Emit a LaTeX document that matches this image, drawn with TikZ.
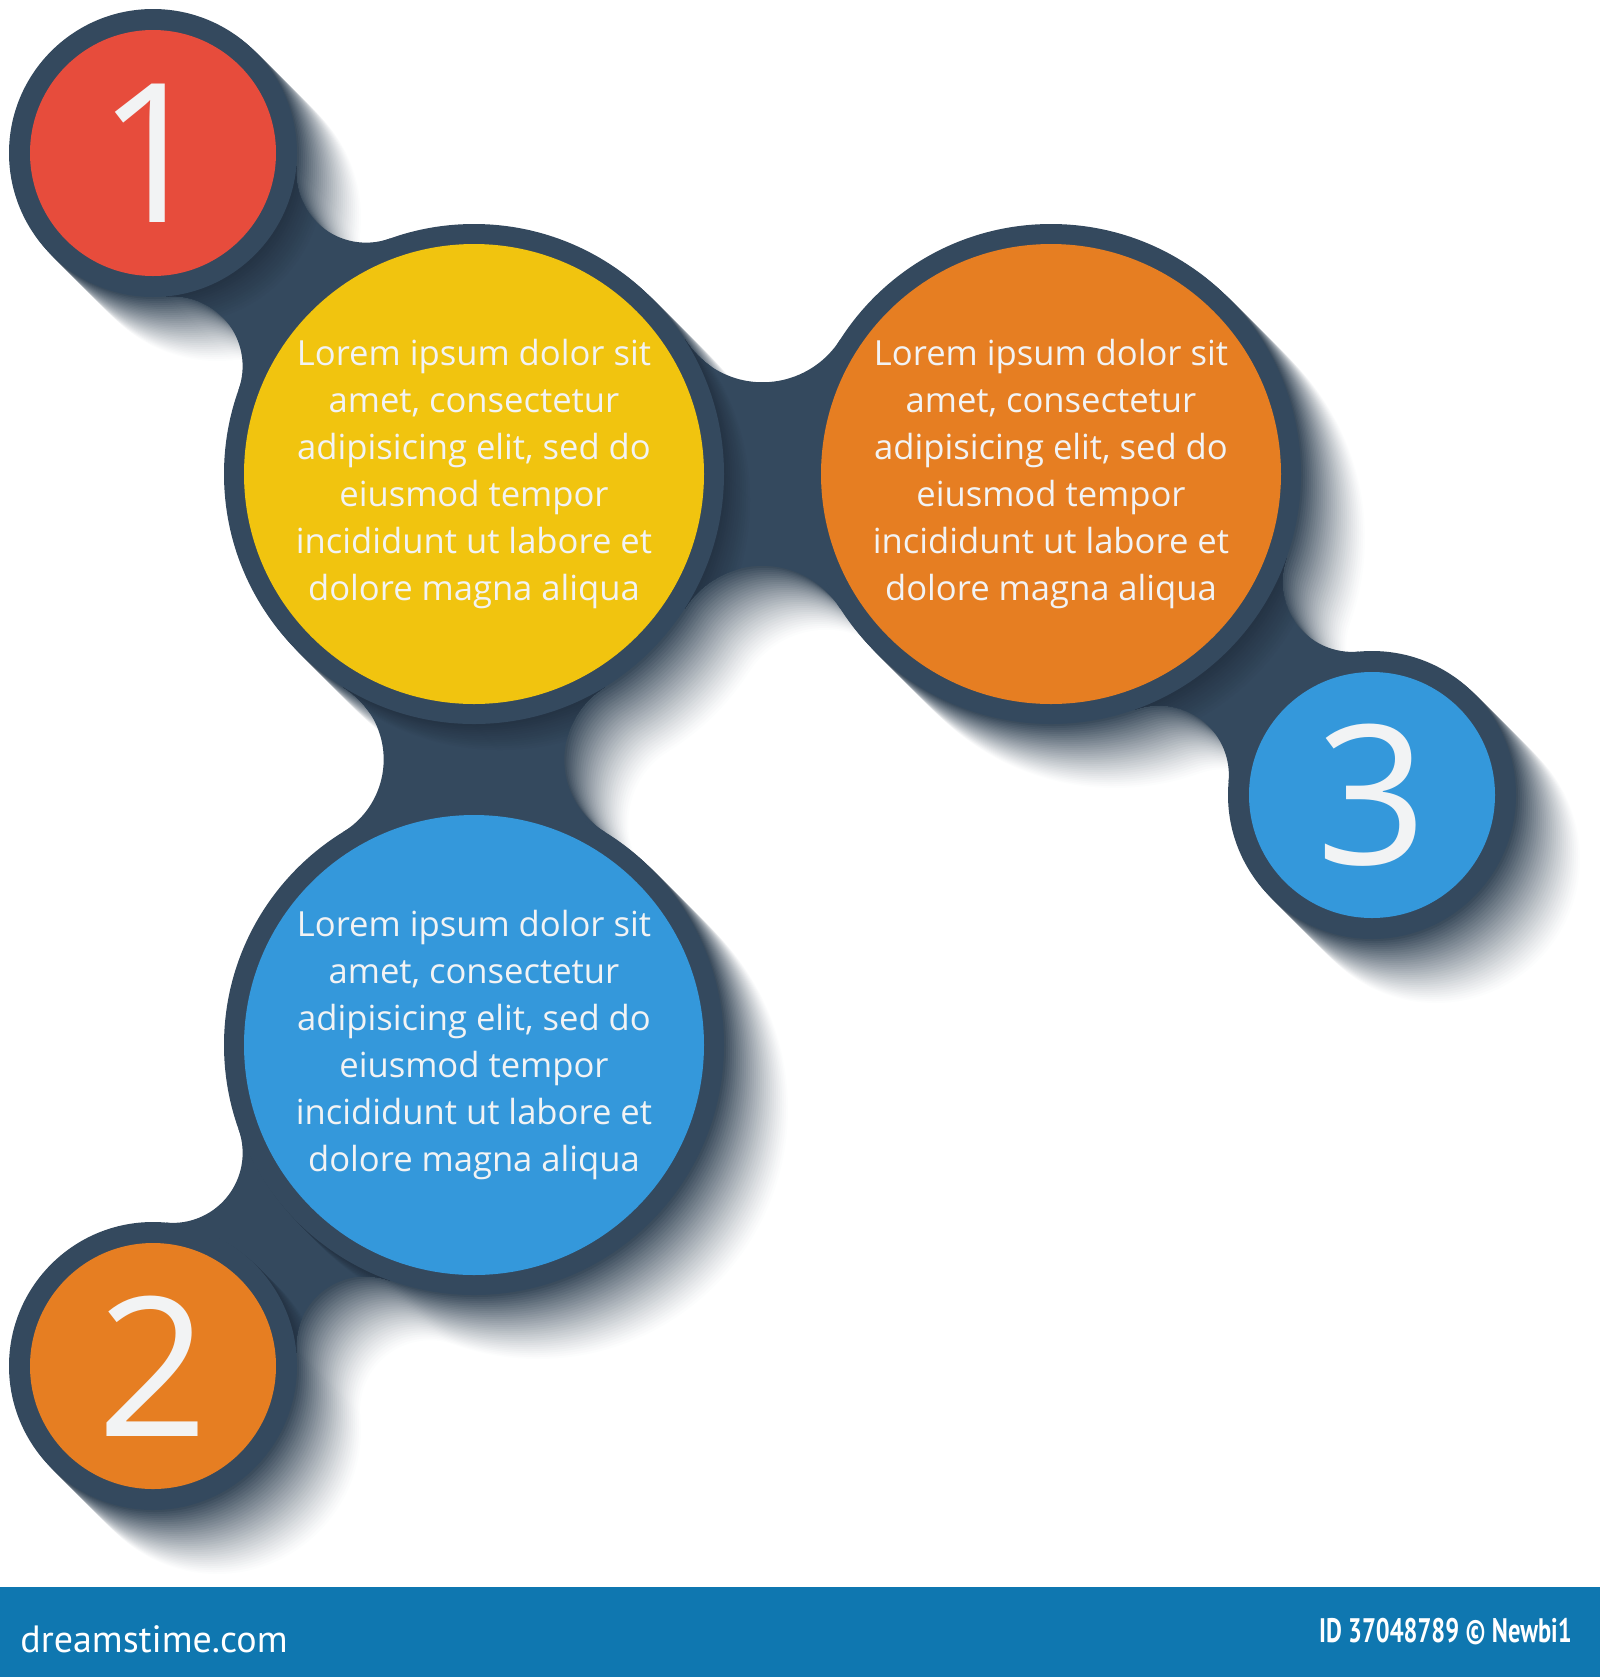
\documentclass[tikz,border=0pt]{standalone}
\usepackage{fontspec}
\setmainfont{Open Sans}
\newfontfamily\logofont{PT Sans}
\newfontfamily\narrowfont[FakeStretch=0.72]{PT Sans}
\usetikzlibrary{calc,intersections}

\definecolor{navy}{HTML}{34495E}
\definecolor{shade}{HTML}{2C3E50}
\definecolor{deep}{HTML}{223040}
\definecolor{redc}{HTML}{E74C3C}
\definecolor{yellowc}{HTML}{F1C40F}
\definecolor{orangec}{HTML}{E67E22}
\definecolor{bluec}{HTML}{3498DB}
\definecolor{cloud}{HTML}{F2F3F4}
\definecolor{barblue}{HTML}{0F77B0}

\tikzset{
  numlabel/.style={inner sep=0pt, text=cloud, font=\fontsize{97}{97}\selectfont},
  lorem/.style={inner sep=0pt, align=center, text=cloud, font=\fontsize{17.3}{23.5}\selectfont},
  barlabel/.style={inner sep=0pt, text=white}
}

\newcommand\loremtext{Lorem ipsum dolor sit\\amet, consectetur\\adipisicing elit, sed do\\eiusmod tempor\\incididunt ut labore et\\dolore magna aliqua}

% neck between two rings: centres, ring radii, fillet radius
\newcommand\necksetup[5]{%
  \path[name path=#1#2p] (#1) circle[radius=#3+#5];
  \path[name path=#1#2q] (#2) circle[radius=#4+#5];
  \path[name intersections={of=#1#2p and #1#2q, by={#1#2f1,#1#2f2}}];
  \coordinate (#1#2a1) at ($(#1)!{#3/(#3+#5)}!(#1#2f1)$);
  \coordinate (#1#2a2) at ($(#1)!{#3/(#3+#5)}!(#1#2f2)$);
  \coordinate (#1#2b1) at ($(#2)!{#4/(#4+#5)}!(#1#2f1)$);
  \coordinate (#1#2b2) at ($(#2)!{#4/(#4+#5)}!(#1#2f2)$);
}
\newcommand\neckpath[2]{%
  let \p1 = ($(#1#2a1)-(#1#2f1)$), \p2 = ($(#1#2b1)-(#1#2f1)$),
      \p3 = ($(#1#2b2)-(#1#2f2)$), \p4 = ($(#1#2a2)-(#1#2f2)$),
      \n1 = {atan2(\y1,\x1)}, \n2 = {mod(atan2(\y2,\x2)-\n1+540,360)-180},
      \n3 = {atan2(\y3,\x3)}, \n4 = {mod(atan2(\y4,\x4)-\n3+540,360)-180},
      \n5 = {veclen(\x1,\y1)} in
  (#1#2a1) arc[start angle=\n1, delta angle=\n2, radius=\n5] -- (#2) -- (#1#2b2)
  arc[start angle=\n3, delta angle=\n4, radius=\n5] -- (#1) -- cycle}
\newcommand\necks[1]{%
  \fill[#1] \neckpath{one}{yel};
  \fill[#1] \neckpath{yel}{ora};
  \fill[#1] \neckpath{yel}{blu};
  \fill[#1] \neckpath{ora}{three};
  \fill[#1] \neckpath{blu}{two};
}
\newcommand\rings[1]{%
  \fill[#1] (one) circle[radius=144] (two) circle[radius=144] (three) circle[radius=144]
    (yel) circle[radius=250] (ora) circle[radius=250] (blu) circle[radius=250];
}

\begin{document}
\begin{tikzpicture}[x=0.5pt, y=-0.5pt]
  \useasboundingbox (0,0) rectangle (1600,1677);

  % Centres
  \coordinate (one) at (153,153);
  \coordinate (yel) at (474,474);
  \coordinate (ora) at (1051,474);
  \coordinate (three) at (1372,795);
  \coordinate (blu) at (474,1045);
  \coordinate (two) at (153,1366);

  % Necks
  \necksetup{one}{yel}{144}{250}{70}
  \necksetup{yel}{ora}{250}{250}{92}
  \necksetup{yel}{blu}{250}{250}{85}
  \necksetup{ora}{three}{250}{144}{70}
  \necksetup{blu}{two}{250}{144}{70}

  % Long shadow
  \foreach \d in {64,62,...,2}{
    \pgfmathsetmacro\p{96*(1-\d/66)^1.25}
    \begin{scope}[transform canvas={shift={(\d,\d)}}]
      \rings{shade!\p!white}
      \necks{shade!\p!white}
    \end{scope}
  }

  % Necks, with the rings' own shadow on them
  \necks{navy}
  \begin{scope}
    \clip \neckpath{one}{yel} \neckpath{yel}{ora} \neckpath{yel}{blu}
      \neckpath{ora}{three} \neckpath{blu}{two};
    \foreach \d in {26,24,...,2}{
      \pgfmathsetmacro\q{90*(1-\d/28)}
      \begin{scope}[transform canvas={shift={(\d,\d)}}]
        \rings{deep!\q!navy}
      \end{scope}
    }
  \end{scope}

  % Rings and discs
  \rings{navy}
  \fill[redc] (one) circle[radius=123];
  \fill[orangec] (two) circle[radius=123];
  \fill[bluec] (three) circle[radius=123];
  \fill[yellowc] (yel) circle[radius=230];
  \fill[orangec] (ora) circle[radius=230];
  \fill[bluec] (blu) circle[radius=230];

  % Labels
  \node[numlabel] (n1) at (one) {1};
  \node[numlabel] (n2) at (two) {2};
  \node[numlabel] (n3) at (three) {3};
  \node[lorem] (t1) at (yel) {\loremtext};
  \node[lorem] (t2) at (ora) {\loremtext};
  \node[lorem] (t3) at (blu) {\loremtext};

  % Bottom bar
  \fill[barblue] (0,1587) rectangle (1600,1677);
  \node[barlabel, anchor=west, font=\logofont\fontsize{19}{19}\selectfont] (site) at (20,1639) {dreamstime.com};
  \node[barlabel, anchor=east, font=\narrowfont\bfseries\fontsize{17}{17}\selectfont] (id) at (1572,1632) {ID 37048789 © Newbi1};
\end{tikzpicture}
\end{document}
